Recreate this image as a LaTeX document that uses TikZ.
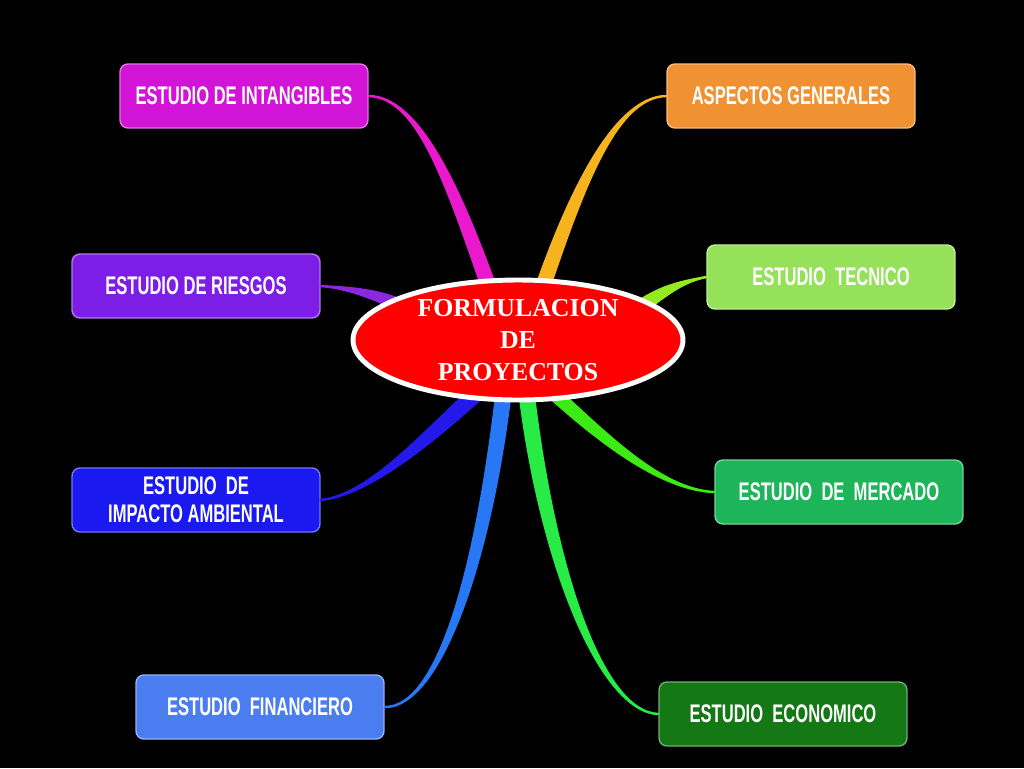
\documentclass[tikz,border=0pt]{standalone}
\usepackage{fontspec}
\setmainfont{Liberation Serif}
\newfontfamily\boxfont[FakeStretch=0.65]{Liberation Sans}
\usetikzlibrary{shapes.geometric,calc}
\definecolor{cInt}{RGB}{210,20,215}
\definecolor{cAsp}{RGB}{240,145,50}
\definecolor{cRie}{RGB}{125,30,230}
\definecolor{cTec}{RGB}{150,225,90}
\definecolor{cImp}{RGB}{25,25,240}
\definecolor{cMer}{RGB}{30,180,90}
\definecolor{cFin}{RGB}{75,125,240}
\definecolor{cEco}{RGB}{20,120,20}
\definecolor{bInt}{RGB}{235,25,205}
\definecolor{bAsp}{RGB}{245,180,30}
\definecolor{bRie}{RGB}{140,40,220}
\definecolor{bTec}{RGB}{150,235,30}
\definecolor{bImp}{RGB}{35,25,235}
\definecolor{bMer}{RGB}{60,235,20}
\definecolor{bFin}{RGB}{40,120,245}
\definecolor{bEco}{RGB}{40,235,70}
\begin{document}
\begin{tikzpicture}[x=0.02cm,y=-0.02cm,
  box/.style={rounded corners=4.5pt, minimum width=4.96cm, minimum height=1.28cm, inner sep=2pt, text=white, align=center, line width=0.8pt, font=\boxfont\bfseries\fontsize{14.5}{16}\selectfont},
  branch/.style={line width=1.4pt, line join=round},
  hubnode/.style={ellipse, fill=red, draw=white, line width=2.8pt, minimum width=6.6cm, minimum height=2.4cm, inner sep=0pt, text=white, align=center, font=\bfseries\fontsize{14.7}{18.1}\selectfont}]
\fill[black] (0,0) rectangle (1024,768);

\node[box, fill=cInt, draw=cInt!60!white] (intang) at (244,96) {ESTUDIO DE INTANGIBLES};
\node[box, fill=cAsp, draw=cAsp!60!white] (aspect) at (791,96) {ASPECTOS GENERALES};
\node[box, fill=cRie, draw=cRie!60!white] (riesgo) at (196,286) {ESTUDIO DE RIESGOS};
\node[box, fill=cTec, draw=cTec!60!white] (tecnic) at (831,277) {ESTUDIO\ \ TECNICO};
\node[box, fill=cImp, draw=cImp!60!white] (impact) at (196,500) {ESTUDIO\ \ DE\\IMPACTO AMBIENTAL};
\node[box, fill=cMer, draw=cMer!60!white] (mercad) at (839,492) {ESTUDIO\ \ DE\ \ MERCADO};
\node[box, fill=cFin, draw=cFin!60!white] (financ) at (260,707) {ESTUDIO\ \ FINANCIERO};
\node[box, fill=cEco, draw=cEco!60!white] (econom) at (783,714) {ESTUDIO\ \ ECONOMICO};

\coordinate (hub) at (518,340);

\filldraw[branch, color=bInt] ($(hub)+(-28,-30)$) .. controls (448,190) and (420,97) .. (intang.east) .. controls (420,97) and (462,190) .. ($(hub)+(-14,-30)$) -- cycle;
\filldraw[branch, color=bAsp] ($(hub)+(10,-30)$) .. controls (568,190) and (615,97) .. (aspect.west) .. controls (615,97) and (582,190) .. ($(hub)+(24,-30)$) -- cycle;
\filldraw[branch, color=bRie] ($(hub)+(-108,-36)$) .. controls (380,289) and (350,288) .. (riesgo.east) .. controls (350,288) and (380,301) .. ($(hub)+(-108,-24)$) -- cycle;
\filldraw[branch, color=bTec] ($(hub)+(110,-31)$) .. controls (657,286) and (680,282) .. (tecnic.west) .. controls (680,282) and (663,298) .. ($(hub)+(115,-20)$) -- cycle;
\filldraw[branch, color=bImp] ($(hub)+(-43,45)$) .. controls (425,430) and (370,495) .. (impact.east) .. controls (370,495) and (435,440) .. ($(hub)+(-33,55)$) -- cycle;
\filldraw[branch, color=bMer] ($(hub)+(35,45)$) .. controls (603,430) and (660,490) .. (mercad.west) .. controls (660,490) and (597,440) .. ($(hub)+(29,55)$) -- cycle;
\filldraw[branch, color=bFin] ($(hub)+(-20,40)$) .. controls (478,560) and (440,708) .. (financ.east) .. controls (440,708) and (492,560) .. ($(hub)+(-6,40)$) -- cycle;
\filldraw[branch, color=bEco] ($(hub)+(0,40)$) .. controls (538,560) and (600,712) .. (econom.west) .. controls (600,712) and (552,560) .. ($(hub)+(14,40)$) -- cycle;

\node[hubnode] (proj) at (hub) {FORMULACION\\DE\\PROYECTOS};
\end{tikzpicture}
\end{document}
